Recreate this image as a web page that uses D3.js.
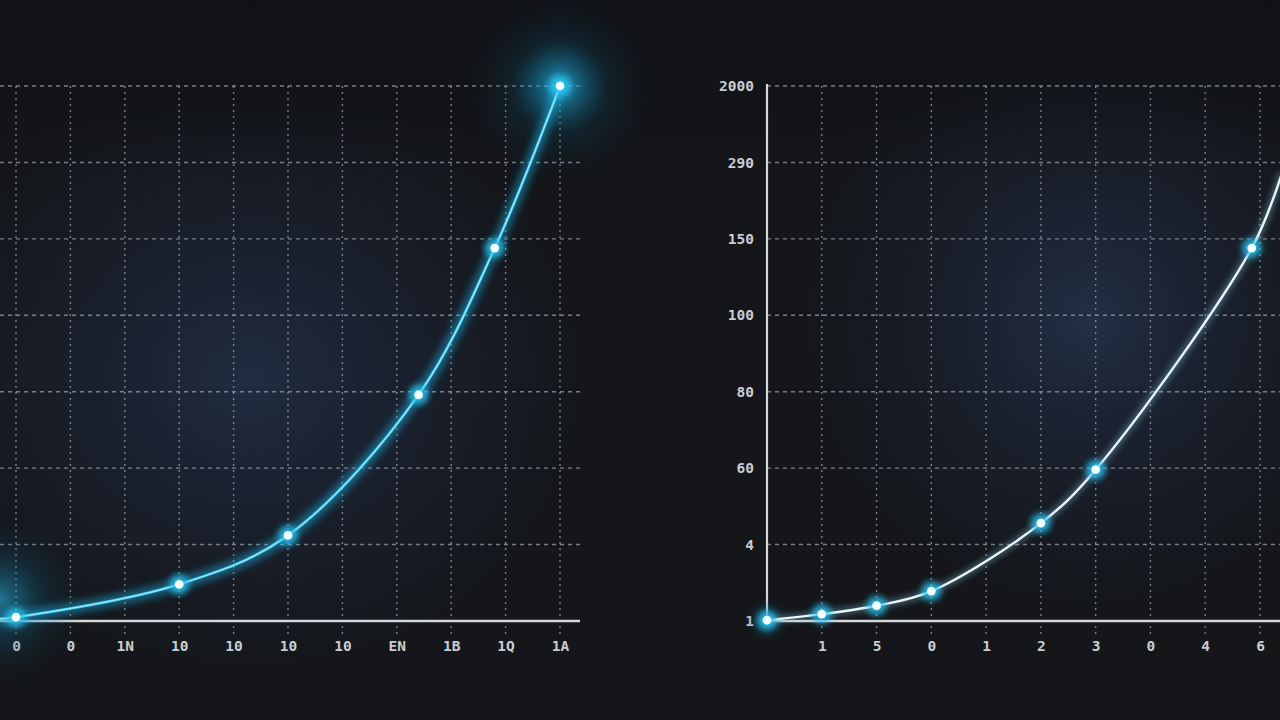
<!DOCTYPE html>
<html><head><meta charset="utf-8">
<script src="https://cdn.jsdelivr.net/npm/d3@7"></script>
<style>html,body{margin:0;padding:0;background:#141619;overflow:hidden}</style>
</head><body><svg id="c" width="1280" height="720"></svg>
<script>
// ---- data ----
const leftTickLabels = ["0","0","1N","10","10","10","10","EN","1B","1Q","1A"];
const leftX = [-0.3, 0, 3, 5, 7.4, 8.8, 10];
const leftY = [0.03, 0.05, 0.48, 1.12, 2.96, 4.88, 7];
const leftMarker = [false, true, true, true, true, true, true];

const rightXLabels = ["1","5","0","1","2","3","0","4","6"];
const rightYLabels = ["1","4","60","80","100","150","290","2000"];
const rightX = [0, 1, 2, 3, 5, 6, 8.85, 9.4];
const rightY = [0.01, 0.09, 0.2, 0.39, 1.28, 1.98, 4.88, 5.86];
const rightMarker = [true, true, true, true, true, true, true, false];

const svg = d3.select("#c");
const defs = svg.append("defs");

function radial(id, stops){
  const g = defs.append("radialGradient").attr("id", id);
  stops.forEach(s => g.append("stop").attr("offset", s[0]).attr("stop-color", s[1]).attr("stop-opacity", s[2]));
}
radial("bgL", [[0,"#24324d",0.8],[0.6,"#1c2538",0.4],[1,"#141619",0]]);
radial("bgR", [[0,"#263552",0.8],[0.6,"#1c2538",0.35],[1,"#141619",0]]);
radial("cyanGlow", [[0,"#39d4ff",0.9],[0.18,"#1aa6d6",0.55],[0.5,"#0c5f80",0.2],[1,"#0a3040",0]]);
radial("cyanGlowSoft", [[0,"#2bb8e6",0.6],[0.5,"#0f6d90",0.22],[1,"#0a3040",0]]);

const blur = (id, sd) => {
  const f = defs.append("filter").attr("id", id).attr("x","-50%").attr("y","-50%").attr("width","200%").attr("height","200%");
  f.append("feGaussianBlur").attr("stdDeviation", sd);
};
blur("b2", 2); blur("b5", 5); blur("b3", 3);

// background
svg.append("rect").attr("width",1280).attr("height",720).attr("fill","#141619");
const topShade = defs.append("linearGradient").attr("id","topShade").attr("x1",0).attr("y1",0).attr("x2",0).attr("y2",1);
topShade.append("stop").attr("offset",0).attr("stop-color","#0f1013").attr("stop-opacity",0.8);
topShade.append("stop").attr("offset",0.25).attr("stop-color","#0f1013").attr("stop-opacity",0);
svg.append("ellipse").attr("cx",250).attr("cy",380).attr("rx",380).attr("ry",330).attr("fill","url(#bgL)");
svg.append("ellipse").attr("cx",1090).attr("cy",320).attr("rx",330).attr("ry",330).attr("fill","url(#bgR)");
svg.append("rect").attr("width",1280).attr("height",720).attr("fill","url(#topShade)");

// ---- scales ----
const xL = d3.scaleLinear().domain([0,10]).range([16,560]);
const yL = d3.scaleLinear().domain([0,7]).range([621,86]);
const xR = d3.scaleLinear().domain([0,9]).range([767,1260]);
const yR = d3.scaleLinear().domain([0,7]).range([621,86]);

const gridColor = "#9399a2";
const labelColor = "#c9cdd2";
const font = "DejaVu Sans Mono, monospace";

// left grid
const gL = svg.append("g");
gL.append("g").selectAll("line").data(d3.range(0,11)).join("line")
  .attr("x1", d => xL(d)).attr("x2", d => xL(d)).attr("y1", yL(7)).attr("y2", 634)
  .attr("stroke", gridColor).attr("stroke-width", 1.4).attr("stroke-dasharray","2,4").attr("opacity",0.8);
gL.append("g").selectAll("line").data(d3.range(1,8)).join("line")
  .attr("x1", 0).attr("x2", 582).attr("y1", d => yL(d)).attr("y2", d => yL(d))
  .attr("stroke", gridColor).attr("stroke-width", 1.4).attr("stroke-dasharray","4,4").attr("opacity",0.8);

// left x axis
const axL = d3.axisBottom(xL).tickValues(d3.range(0,11)).tickFormat((d,i)=>leftTickLabels[i]).tickSize(0).tickPadding(20);
const axLG = svg.append("g").attr("transform","translate(0,621)").call(axL);
axLG.select(".domain").remove();
svg.append("line").attr("x1",0).attr("x2",580).attr("y1",621).attr("y2",621).attr("stroke","#d4d7db").attr("stroke-width",2.5);

// right grid
const gR = svg.append("g");
gR.append("g").selectAll("line").data(d3.range(1,10)).join("line")
  .attr("x1", d => xR(d)).attr("x2", d => xR(d)).attr("y1", yR(7)).attr("y2", 634)
  .attr("stroke", gridColor).attr("stroke-width", 1.4).attr("stroke-dasharray","2,4").attr("opacity",0.8);
gR.append("g").selectAll("line").data(d3.range(1,8)).join("line")
  .attr("x1", 767).attr("x2", 1280).attr("y1", d => yR(d)).attr("y2", d => yR(d))
  .attr("stroke", gridColor).attr("stroke-width", 1.4).attr("stroke-dasharray","4,4").attr("opacity",0.8);

// right axes
const axRX = d3.axisBottom(xR).tickValues(d3.range(1,10)).tickFormat((d,i)=>rightXLabels[i]).tickSize(0).tickPadding(20);
const axRXG = svg.append("g").attr("transform","translate(0,621)").call(axRX);
axRXG.select(".domain").remove();
const axRY = d3.axisLeft(yR).tickValues(d3.range(0,8)).tickFormat((d,i)=>rightYLabels[i]).tickSize(0).tickPadding(13);
const axRYG = svg.append("g").attr("transform","translate(767,0)").call(axRY);
axRYG.select(".domain").remove();
svg.selectAll(".tick text").attr("fill",labelColor).attr("font-family",font).attr("font-weight","bold").attr("font-size",14.5);
svg.append("line").attr("x1",767).attr("x2",767).attr("y1",84).attr("y2",621).attr("stroke","#d4d7db").attr("stroke-width",2.2);
svg.append("line").attr("x1",767).attr("x2",1280).attr("y1",621).attr("y2",621).attr("stroke","#d4d7db").attr("stroke-width",2.5);

// glows
svg.append("circle").attr("cx",xL(10)).attr("cy",yL(7)).attr("r",95).attr("fill","url(#cyanGlow)");
svg.append("circle").attr("cx",0).attr("cy",600).attr("r",85).attr("fill","url(#cyanGlowSoft)");
svg.append("circle").attr("cx",xR(0)).attr("cy",yR(0)).attr("r",24).attr("fill","url(#cyanGlowSoft)");

// lines
const curve = d3.curveCatmullRom.alpha(0.5);
const lineL = d3.line().x(d => xL(d[0])).y(d => yL(d[1])).curve(curve);
const lineR = d3.line().x(d => xR(d[0])).y(d => yR(d[1])).curve(curve);
const ptsL = leftX.map((x,i)=>[x,leftY[i]]);
const ptsR = rightX.map((x,i)=>[x,rightY[i]]);

svg.append("path").attr("d", lineL(ptsL)).attr("fill","none").attr("stroke","#1fb3e6").attr("stroke-width",8).attr("opacity",0.7).attr("filter","url(#b5)");
svg.append("path").attr("d", lineL(ptsL)).attr("fill","none").attr("stroke","#49d2f5").attr("stroke-width",2.6);
svg.append("path").attr("d", lineL(ptsL)).attr("fill","none").attr("stroke","#c9f4ff").attr("stroke-width",0.9).attr("opacity",0.8);

svg.append("path").attr("d", lineR(ptsR)).attr("fill","none").attr("stroke","#7fcde6").attr("stroke-width",6).attr("opacity",0.45).attr("filter","url(#b3)");
svg.append("path").attr("d", lineR(ptsR)).attr("fill","none").attr("stroke","#eef4f8").attr("stroke-width",2.4);

// markers
function markers(pts, flags, xs, ys){
  const m = pts.filter((p,i)=>flags[i]);
  svg.append("g").selectAll("circle").data(m).join("circle")
    .attr("cx", d => xs(d[0])).attr("cy", d => ys(d[1])).attr("r", 10)
    .attr("fill","#27c4f2").attr("opacity",0.8).attr("filter","url(#b3)");
  svg.append("g").selectAll("circle").data(m).join("circle")
    .attr("cx", d => xs(d[0])).attr("cy", d => ys(d[1])).attr("r", 4.4)
    .attr("fill","#f2fdff");
}
markers(ptsL, leftMarker, xL, yL);
markers(ptsR, rightMarker, xR, yR);
</script></body></html>
